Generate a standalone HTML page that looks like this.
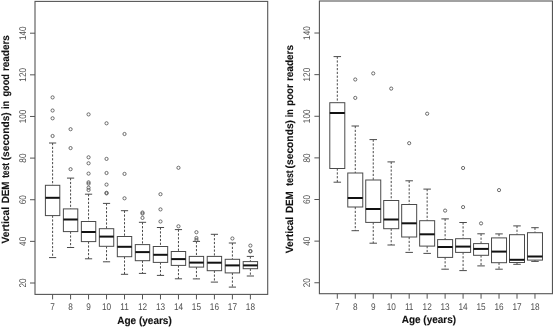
<!DOCTYPE html>
<html><head><meta charset="utf-8"><title>Vertical DEM test boxplots</title>
<style>
html,body{margin:0;padding:0;background:#fff;}
svg{display:block;text-rendering:geometricPrecision}
.t{font-family:"Liberation Sans",Arial,sans-serif;font-size:9.7px;fill:#505050;}
.b{font-family:"Liberation Sans",Arial,sans-serif;font-size:10.5px;font-weight:bold;fill:#111;stroke:#111;stroke-width:0.12px;}
</style></head><body>
<svg width="553" height="327" viewBox="0 0 553 327">
<rect width="553" height="327" fill="#fff"/>
<rect x="35.0" y="1.4" width="232.70" height="293.00" fill="none" stroke="#555" stroke-width="1.1"/>
<line x1="30.00" y1="283.0" x2="35.0" y2="283.0" stroke="#555" stroke-width="1"/>
<text transform="translate(25.80,283.0) rotate(-90) scale(0.85,1)" text-anchor="middle" class="t">20</text>
<line x1="30.00" y1="241.37" x2="35.0" y2="241.37" stroke="#555" stroke-width="1"/>
<text transform="translate(25.80,241.37) rotate(-90) scale(0.85,1)" text-anchor="middle" class="t">40</text>
<line x1="30.00" y1="199.73" x2="35.0" y2="199.73" stroke="#555" stroke-width="1"/>
<text transform="translate(25.80,199.73) rotate(-90) scale(0.85,1)" text-anchor="middle" class="t">60</text>
<line x1="30.00" y1="158.1" x2="35.0" y2="158.1" stroke="#555" stroke-width="1"/>
<text transform="translate(25.80,158.1) rotate(-90) scale(0.85,1)" text-anchor="middle" class="t">80</text>
<line x1="30.00" y1="116.46" x2="35.0" y2="116.46" stroke="#555" stroke-width="1"/>
<text transform="translate(25.80,116.46) rotate(-90) scale(0.85,1)" text-anchor="middle" class="t">100</text>
<line x1="30.00" y1="74.83" x2="35.0" y2="74.83" stroke="#555" stroke-width="1"/>
<text transform="translate(25.80,74.83) rotate(-90) scale(0.85,1)" text-anchor="middle" class="t">120</text>
<line x1="30.00" y1="33.2" x2="35.0" y2="33.2" stroke="#555" stroke-width="1"/>
<text transform="translate(25.80,33.2) rotate(-90) scale(0.85,1)" text-anchor="middle" class="t">140</text>
<line x1="52.60" y1="294.4" x2="52.60" y2="299.40" stroke="#555" stroke-width="1"/>
<text transform="translate(52.60,310.0) scale(0.85,1)" text-anchor="middle" class="t">7</text>
<line x1="70.58" y1="294.4" x2="70.58" y2="299.40" stroke="#555" stroke-width="1"/>
<text transform="translate(70.58,310.0) scale(0.85,1)" text-anchor="middle" class="t">8</text>
<line x1="88.56" y1="294.4" x2="88.56" y2="299.40" stroke="#555" stroke-width="1"/>
<text transform="translate(88.56,310.0) scale(0.85,1)" text-anchor="middle" class="t">9</text>
<line x1="106.54" y1="294.4" x2="106.54" y2="299.40" stroke="#555" stroke-width="1"/>
<text transform="translate(106.54,310.0) scale(0.85,1)" text-anchor="middle" class="t">10</text>
<line x1="124.52" y1="294.4" x2="124.52" y2="299.40" stroke="#555" stroke-width="1"/>
<text transform="translate(124.52,310.0) scale(0.85,1)" text-anchor="middle" class="t">11</text>
<line x1="142.50" y1="294.4" x2="142.50" y2="299.40" stroke="#555" stroke-width="1"/>
<text transform="translate(142.50,310.0) scale(0.85,1)" text-anchor="middle" class="t">12</text>
<line x1="160.48" y1="294.4" x2="160.48" y2="299.40" stroke="#555" stroke-width="1"/>
<text transform="translate(160.48,310.0) scale(0.85,1)" text-anchor="middle" class="t">13</text>
<line x1="178.46" y1="294.4" x2="178.46" y2="299.40" stroke="#555" stroke-width="1"/>
<text transform="translate(178.46,310.0) scale(0.85,1)" text-anchor="middle" class="t">14</text>
<line x1="196.44" y1="294.4" x2="196.44" y2="299.40" stroke="#555" stroke-width="1"/>
<text transform="translate(196.44,310.0) scale(0.85,1)" text-anchor="middle" class="t">15</text>
<line x1="214.42" y1="294.4" x2="214.42" y2="299.40" stroke="#555" stroke-width="1"/>
<text transform="translate(214.42,310.0) scale(0.85,1)" text-anchor="middle" class="t">16</text>
<line x1="232.40" y1="294.4" x2="232.40" y2="299.40" stroke="#555" stroke-width="1"/>
<text transform="translate(232.40,310.0) scale(0.85,1)" text-anchor="middle" class="t">17</text>
<line x1="250.38" y1="294.4" x2="250.38" y2="299.40" stroke="#555" stroke-width="1"/>
<text transform="translate(250.38,310.0) scale(0.85,1)" text-anchor="middle" class="t">18</text>
<line x1="52.60" y1="143.0" x2="52.60" y2="185.3" stroke="#4a4a4a" stroke-width="1" stroke-dasharray="2.2,1.6"/>
<line x1="52.60" y1="215.6" x2="52.60" y2="257.6" stroke="#4a4a4a" stroke-width="1" stroke-dasharray="2.2,1.6"/>
<line x1="49.00" y1="143.0" x2="56.20" y2="143.0" stroke="#4a4a4a" stroke-width="1"/>
<line x1="49.00" y1="257.6" x2="56.20" y2="257.6" stroke="#4a4a4a" stroke-width="1"/>
<rect x="45.40" y="185.3" width="14.40" height="30.30" fill="#fff" stroke="#4a4a4a" stroke-width="1"/>
<line x1="45.40" y1="197.8" x2="59.80" y2="197.8" stroke="#111" stroke-width="2.0"/>
<circle cx="52.60" cy="97.4" r="1.6" fill="none" stroke="#555" stroke-width="0.85"/>
<circle cx="52.60" cy="110.5" r="1.6" fill="none" stroke="#555" stroke-width="0.85"/>
<circle cx="52.60" cy="118.3" r="1.6" fill="none" stroke="#555" stroke-width="0.85"/>
<circle cx="52.60" cy="136.0" r="1.6" fill="none" stroke="#555" stroke-width="0.85"/>
<line x1="70.58" y1="178.1" x2="70.58" y2="208.9" stroke="#4a4a4a" stroke-width="1" stroke-dasharray="2.2,1.6"/>
<line x1="70.58" y1="231.6" x2="70.58" y2="247.5" stroke="#4a4a4a" stroke-width="1" stroke-dasharray="2.2,1.6"/>
<line x1="66.98" y1="178.1" x2="74.18" y2="178.1" stroke="#4a4a4a" stroke-width="1"/>
<line x1="66.98" y1="247.5" x2="74.18" y2="247.5" stroke="#4a4a4a" stroke-width="1"/>
<rect x="63.38" y="208.9" width="14.40" height="22.70" fill="#fff" stroke="#4a4a4a" stroke-width="1"/>
<line x1="63.38" y1="219.5" x2="77.78" y2="219.5" stroke="#111" stroke-width="2.0"/>
<circle cx="70.58" cy="129.2" r="1.6" fill="none" stroke="#555" stroke-width="0.85"/>
<circle cx="70.58" cy="148.1" r="1.6" fill="none" stroke="#555" stroke-width="0.85"/>
<circle cx="70.58" cy="169.2" r="1.6" fill="none" stroke="#555" stroke-width="0.85"/>
<line x1="88.56" y1="194.2" x2="88.56" y2="221.5" stroke="#4a4a4a" stroke-width="1" stroke-dasharray="2.2,1.6"/>
<line x1="88.56" y1="241.6" x2="88.56" y2="258.8" stroke="#4a4a4a" stroke-width="1" stroke-dasharray="2.2,1.6"/>
<line x1="84.96" y1="194.2" x2="92.16" y2="194.2" stroke="#4a4a4a" stroke-width="1"/>
<line x1="84.96" y1="258.8" x2="92.16" y2="258.8" stroke="#4a4a4a" stroke-width="1"/>
<rect x="81.36" y="221.5" width="14.40" height="20.10" fill="#fff" stroke="#4a4a4a" stroke-width="1"/>
<line x1="81.36" y1="232.0" x2="95.76" y2="232.0" stroke="#111" stroke-width="2.0"/>
<circle cx="88.56" cy="114.4" r="1.6" fill="none" stroke="#555" stroke-width="0.85"/>
<circle cx="88.56" cy="157.3" r="1.6" fill="none" stroke="#555" stroke-width="0.85"/>
<circle cx="88.56" cy="163.3" r="1.6" fill="none" stroke="#555" stroke-width="0.85"/>
<circle cx="88.56" cy="173.6" r="1.6" fill="none" stroke="#555" stroke-width="0.85"/>
<circle cx="88.56" cy="182.3" r="1.6" fill="none" stroke="#555" stroke-width="0.85"/>
<circle cx="88.56" cy="183.7" r="1.6" fill="none" stroke="#555" stroke-width="0.85"/>
<circle cx="88.56" cy="187.7" r="1.6" fill="none" stroke="#555" stroke-width="0.85"/>
<circle cx="88.56" cy="190.0" r="1.6" fill="none" stroke="#555" stroke-width="0.85"/>
<line x1="106.54" y1="203.4" x2="106.54" y2="228.7" stroke="#4a4a4a" stroke-width="1" stroke-dasharray="2.2,1.6"/>
<line x1="106.54" y1="246.3" x2="106.54" y2="261.8" stroke="#4a4a4a" stroke-width="1" stroke-dasharray="2.2,1.6"/>
<line x1="102.94" y1="203.4" x2="110.14" y2="203.4" stroke="#4a4a4a" stroke-width="1"/>
<line x1="102.94" y1="261.8" x2="110.14" y2="261.8" stroke="#4a4a4a" stroke-width="1"/>
<rect x="99.34" y="228.7" width="14.40" height="17.60" fill="#fff" stroke="#4a4a4a" stroke-width="1"/>
<line x1="99.34" y1="236.6" x2="113.74" y2="236.6" stroke="#111" stroke-width="2.0"/>
<circle cx="106.54" cy="123.3" r="1.6" fill="none" stroke="#555" stroke-width="0.85"/>
<circle cx="106.54" cy="158.9" r="1.6" fill="none" stroke="#555" stroke-width="0.85"/>
<circle cx="106.54" cy="173.0" r="1.6" fill="none" stroke="#555" stroke-width="0.85"/>
<circle cx="106.54" cy="184.6" r="1.6" fill="none" stroke="#555" stroke-width="0.85"/>
<circle cx="106.54" cy="192.8" r="1.6" fill="none" stroke="#555" stroke-width="0.85"/>
<circle cx="106.54" cy="193.4" r="1.6" fill="none" stroke="#555" stroke-width="0.85"/>
<line x1="124.52" y1="210.7" x2="124.52" y2="236.5" stroke="#4a4a4a" stroke-width="1" stroke-dasharray="2.2,1.6"/>
<line x1="124.52" y1="256.7" x2="124.52" y2="274.3" stroke="#4a4a4a" stroke-width="1" stroke-dasharray="2.2,1.6"/>
<line x1="120.92" y1="210.7" x2="128.12" y2="210.7" stroke="#4a4a4a" stroke-width="1"/>
<line x1="120.92" y1="274.3" x2="128.12" y2="274.3" stroke="#4a4a4a" stroke-width="1"/>
<rect x="117.32" y="236.5" width="14.40" height="20.20" fill="#fff" stroke="#4a4a4a" stroke-width="1"/>
<line x1="117.32" y1="246.8" x2="131.72" y2="246.8" stroke="#111" stroke-width="2.0"/>
<circle cx="124.52" cy="134.0" r="1.6" fill="none" stroke="#555" stroke-width="0.85"/>
<circle cx="124.52" cy="173.9" r="1.6" fill="none" stroke="#555" stroke-width="0.85"/>
<circle cx="124.52" cy="198.3" r="1.6" fill="none" stroke="#555" stroke-width="0.85"/>
<line x1="142.50" y1="222.3" x2="142.50" y2="244.6" stroke="#4a4a4a" stroke-width="1" stroke-dasharray="2.2,1.6"/>
<line x1="142.50" y1="260.7" x2="142.50" y2="273.4" stroke="#4a4a4a" stroke-width="1" stroke-dasharray="2.2,1.6"/>
<line x1="138.90" y1="222.3" x2="146.10" y2="222.3" stroke="#4a4a4a" stroke-width="1"/>
<line x1="138.90" y1="273.4" x2="146.10" y2="273.4" stroke="#4a4a4a" stroke-width="1"/>
<rect x="135.30" y="244.6" width="14.40" height="16.10" fill="#fff" stroke="#4a4a4a" stroke-width="1"/>
<line x1="135.30" y1="252.1" x2="149.70" y2="252.1" stroke="#111" stroke-width="2.0"/>
<circle cx="142.50" cy="212.5" r="1.6" fill="none" stroke="#555" stroke-width="0.85"/>
<circle cx="142.50" cy="213.6" r="1.6" fill="none" stroke="#555" stroke-width="0.85"/>
<circle cx="142.50" cy="217.9" r="1.6" fill="none" stroke="#555" stroke-width="0.85"/>
<line x1="160.48" y1="227.5" x2="160.48" y2="246.5" stroke="#4a4a4a" stroke-width="1" stroke-dasharray="2.2,1.6"/>
<line x1="160.48" y1="262.4" x2="160.48" y2="275.4" stroke="#4a4a4a" stroke-width="1" stroke-dasharray="2.2,1.6"/>
<line x1="156.88" y1="227.5" x2="164.08" y2="227.5" stroke="#4a4a4a" stroke-width="1"/>
<line x1="156.88" y1="275.4" x2="164.08" y2="275.4" stroke="#4a4a4a" stroke-width="1"/>
<rect x="153.28" y="246.5" width="14.40" height="15.90" fill="#fff" stroke="#4a4a4a" stroke-width="1"/>
<line x1="153.28" y1="254.8" x2="167.68" y2="254.8" stroke="#111" stroke-width="2.0"/>
<circle cx="160.48" cy="194.2" r="1.6" fill="none" stroke="#555" stroke-width="0.85"/>
<circle cx="160.48" cy="209.4" r="1.6" fill="none" stroke="#555" stroke-width="0.85"/>
<circle cx="160.48" cy="221.5" r="1.6" fill="none" stroke="#555" stroke-width="0.85"/>
<line x1="178.46" y1="229.6" x2="178.46" y2="251.5" stroke="#4a4a4a" stroke-width="1" stroke-dasharray="2.2,1.6"/>
<line x1="178.46" y1="265.4" x2="178.46" y2="278.8" stroke="#4a4a4a" stroke-width="1" stroke-dasharray="2.2,1.6"/>
<line x1="174.86" y1="229.6" x2="182.06" y2="229.6" stroke="#4a4a4a" stroke-width="1"/>
<line x1="174.86" y1="278.8" x2="182.06" y2="278.8" stroke="#4a4a4a" stroke-width="1"/>
<rect x="171.26" y="251.5" width="14.40" height="13.90" fill="#fff" stroke="#4a4a4a" stroke-width="1"/>
<line x1="171.26" y1="259.1" x2="185.66" y2="259.1" stroke="#111" stroke-width="2.0"/>
<circle cx="178.46" cy="167.8" r="1.6" fill="none" stroke="#555" stroke-width="0.85"/>
<circle cx="178.46" cy="226.3" r="1.6" fill="none" stroke="#555" stroke-width="0.85"/>
<line x1="196.44" y1="241.4" x2="196.44" y2="256.4" stroke="#4a4a4a" stroke-width="1" stroke-dasharray="2.2,1.6"/>
<line x1="196.44" y1="267.1" x2="196.44" y2="278.9" stroke="#4a4a4a" stroke-width="1" stroke-dasharray="2.2,1.6"/>
<line x1="192.84" y1="241.4" x2="200.04" y2="241.4" stroke="#4a4a4a" stroke-width="1"/>
<line x1="192.84" y1="278.9" x2="200.04" y2="278.9" stroke="#4a4a4a" stroke-width="1"/>
<rect x="189.24" y="256.4" width="14.40" height="10.70" fill="#fff" stroke="#4a4a4a" stroke-width="1"/>
<line x1="189.24" y1="262.6" x2="203.64" y2="262.6" stroke="#111" stroke-width="2.0"/>
<circle cx="196.44" cy="232.2" r="1.6" fill="none" stroke="#555" stroke-width="0.85"/>
<circle cx="196.44" cy="238.0" r="1.6" fill="none" stroke="#555" stroke-width="0.85"/>
<circle cx="196.44" cy="240.0" r="1.6" fill="none" stroke="#555" stroke-width="0.85"/>
<line x1="214.42" y1="234.3" x2="214.42" y2="256.4" stroke="#4a4a4a" stroke-width="1" stroke-dasharray="2.2,1.6"/>
<line x1="214.42" y1="270.7" x2="214.42" y2="282.1" stroke="#4a4a4a" stroke-width="1" stroke-dasharray="2.2,1.6"/>
<line x1="210.82" y1="234.3" x2="218.02" y2="234.3" stroke="#4a4a4a" stroke-width="1"/>
<line x1="210.82" y1="282.1" x2="218.02" y2="282.1" stroke="#4a4a4a" stroke-width="1"/>
<rect x="207.22" y="256.4" width="14.40" height="14.30" fill="#fff" stroke="#4a4a4a" stroke-width="1"/>
<line x1="207.22" y1="262.7" x2="221.62" y2="262.7" stroke="#111" stroke-width="2.0"/>
<line x1="232.40" y1="243.0" x2="232.40" y2="259.3" stroke="#4a4a4a" stroke-width="1" stroke-dasharray="2.2,1.6"/>
<line x1="232.40" y1="272.9" x2="232.40" y2="287.1" stroke="#4a4a4a" stroke-width="1" stroke-dasharray="2.2,1.6"/>
<line x1="228.80" y1="243.0" x2="236.00" y2="243.0" stroke="#4a4a4a" stroke-width="1"/>
<line x1="228.80" y1="287.1" x2="236.00" y2="287.1" stroke="#4a4a4a" stroke-width="1"/>
<rect x="225.20" y="259.3" width="14.40" height="13.60" fill="#fff" stroke="#4a4a4a" stroke-width="1"/>
<line x1="225.20" y1="265.4" x2="239.60" y2="265.4" stroke="#111" stroke-width="2.0"/>
<circle cx="232.40" cy="238.5" r="1.6" fill="none" stroke="#555" stroke-width="0.85"/>
<line x1="250.38" y1="256.4" x2="250.38" y2="261.6" stroke="#4a4a4a" stroke-width="1" stroke-dasharray="2.2,1.6"/>
<line x1="250.38" y1="268.7" x2="250.38" y2="276.0" stroke="#4a4a4a" stroke-width="1" stroke-dasharray="2.2,1.6"/>
<line x1="246.78" y1="256.4" x2="253.98" y2="256.4" stroke="#4a4a4a" stroke-width="1"/>
<line x1="246.78" y1="276.0" x2="253.98" y2="276.0" stroke="#4a4a4a" stroke-width="1"/>
<rect x="243.18" y="261.6" width="14.40" height="7.10" fill="#fff" stroke="#4a4a4a" stroke-width="1"/>
<line x1="243.18" y1="265.4" x2="257.58" y2="265.4" stroke="#111" stroke-width="2.0"/>
<circle cx="250.38" cy="245.6" r="1.6" fill="none" stroke="#555" stroke-width="0.85"/>
<circle cx="250.38" cy="251.0" r="1.6" fill="none" stroke="#555" stroke-width="0.85"/>
<circle cx="250.38" cy="251.4" r="1.6" fill="none" stroke="#555" stroke-width="0.85"/>
<rect x="319.4" y="1.0" width="233.05" height="292.70" fill="none" stroke="#555" stroke-width="1.1"/>
<line x1="314.40" y1="282.75" x2="319.4" y2="282.75" stroke="#555" stroke-width="1"/>
<text transform="translate(310.20,282.75) rotate(-90) scale(0.85,1)" text-anchor="middle" class="t">20</text>
<line x1="314.40" y1="241.13" x2="319.4" y2="241.13" stroke="#555" stroke-width="1"/>
<text transform="translate(310.20,241.13) rotate(-90) scale(0.85,1)" text-anchor="middle" class="t">40</text>
<line x1="314.40" y1="199.51" x2="319.4" y2="199.51" stroke="#555" stroke-width="1"/>
<text transform="translate(310.20,199.51) rotate(-90) scale(0.85,1)" text-anchor="middle" class="t">60</text>
<line x1="314.40" y1="157.89" x2="319.4" y2="157.89" stroke="#555" stroke-width="1"/>
<text transform="translate(310.20,157.89) rotate(-90) scale(0.85,1)" text-anchor="middle" class="t">80</text>
<line x1="314.40" y1="116.27" x2="319.4" y2="116.27" stroke="#555" stroke-width="1"/>
<text transform="translate(310.20,116.27) rotate(-90) scale(0.85,1)" text-anchor="middle" class="t">100</text>
<line x1="314.40" y1="74.65" x2="319.4" y2="74.65" stroke="#555" stroke-width="1"/>
<text transform="translate(310.20,74.65) rotate(-90) scale(0.85,1)" text-anchor="middle" class="t">120</text>
<line x1="314.40" y1="33.03" x2="319.4" y2="33.03" stroke="#555" stroke-width="1"/>
<text transform="translate(310.20,33.03) rotate(-90) scale(0.85,1)" text-anchor="middle" class="t">140</text>
<line x1="337.30" y1="293.7" x2="337.30" y2="298.70" stroke="#555" stroke-width="1"/>
<text transform="translate(337.30,310.0) scale(0.85,1)" text-anchor="middle" class="t">7</text>
<line x1="355.27" y1="293.7" x2="355.27" y2="298.70" stroke="#555" stroke-width="1"/>
<text transform="translate(355.27,310.0) scale(0.85,1)" text-anchor="middle" class="t">8</text>
<line x1="373.24" y1="293.7" x2="373.24" y2="298.70" stroke="#555" stroke-width="1"/>
<text transform="translate(373.24,310.0) scale(0.85,1)" text-anchor="middle" class="t">9</text>
<line x1="391.21" y1="293.7" x2="391.21" y2="298.70" stroke="#555" stroke-width="1"/>
<text transform="translate(391.21,310.0) scale(0.85,1)" text-anchor="middle" class="t">10</text>
<line x1="409.18" y1="293.7" x2="409.18" y2="298.70" stroke="#555" stroke-width="1"/>
<text transform="translate(409.18,310.0) scale(0.85,1)" text-anchor="middle" class="t">11</text>
<line x1="427.15" y1="293.7" x2="427.15" y2="298.70" stroke="#555" stroke-width="1"/>
<text transform="translate(427.15,310.0) scale(0.85,1)" text-anchor="middle" class="t">12</text>
<line x1="445.12" y1="293.7" x2="445.12" y2="298.70" stroke="#555" stroke-width="1"/>
<text transform="translate(445.12,310.0) scale(0.85,1)" text-anchor="middle" class="t">13</text>
<line x1="463.09" y1="293.7" x2="463.09" y2="298.70" stroke="#555" stroke-width="1"/>
<text transform="translate(463.09,310.0) scale(0.85,1)" text-anchor="middle" class="t">14</text>
<line x1="481.06" y1="293.7" x2="481.06" y2="298.70" stroke="#555" stroke-width="1"/>
<text transform="translate(481.06,310.0) scale(0.85,1)" text-anchor="middle" class="t">15</text>
<line x1="499.03" y1="293.7" x2="499.03" y2="298.70" stroke="#555" stroke-width="1"/>
<text transform="translate(499.03,310.0) scale(0.85,1)" text-anchor="middle" class="t">16</text>
<line x1="517.00" y1="293.7" x2="517.00" y2="298.70" stroke="#555" stroke-width="1"/>
<text transform="translate(517.00,310.0) scale(0.85,1)" text-anchor="middle" class="t">17</text>
<line x1="534.97" y1="293.7" x2="534.97" y2="298.70" stroke="#555" stroke-width="1"/>
<text transform="translate(534.97,310.0) scale(0.85,1)" text-anchor="middle" class="t">18</text>
<line x1="337.30" y1="56.6" x2="337.30" y2="102.7" stroke="#4a4a4a" stroke-width="1" stroke-dasharray="2.2,1.6"/>
<line x1="337.30" y1="168.5" x2="337.30" y2="182.2" stroke="#4a4a4a" stroke-width="1" stroke-dasharray="2.2,1.6"/>
<line x1="333.55" y1="56.6" x2="341.05" y2="56.6" stroke="#4a4a4a" stroke-width="1"/>
<line x1="333.55" y1="182.2" x2="341.05" y2="182.2" stroke="#4a4a4a" stroke-width="1"/>
<rect x="329.80" y="102.7" width="15.00" height="65.80" fill="#fff" stroke="#4a4a4a" stroke-width="1"/>
<line x1="329.80" y1="113.0" x2="344.80" y2="113.0" stroke="#111" stroke-width="2.0"/>
<line x1="355.27" y1="126.0" x2="355.27" y2="173.0" stroke="#4a4a4a" stroke-width="1" stroke-dasharray="2.2,1.6"/>
<line x1="355.27" y1="207.0" x2="355.27" y2="230.7" stroke="#4a4a4a" stroke-width="1" stroke-dasharray="2.2,1.6"/>
<line x1="351.52" y1="126.0" x2="359.02" y2="126.0" stroke="#4a4a4a" stroke-width="1"/>
<line x1="351.52" y1="230.7" x2="359.02" y2="230.7" stroke="#4a4a4a" stroke-width="1"/>
<rect x="347.77" y="173.0" width="15.00" height="34.00" fill="#fff" stroke="#4a4a4a" stroke-width="1"/>
<line x1="347.77" y1="198.0" x2="362.77" y2="198.0" stroke="#111" stroke-width="2.0"/>
<circle cx="355.27" cy="79.5" r="1.6" fill="none" stroke="#555" stroke-width="0.85"/>
<circle cx="355.27" cy="97.9" r="1.6" fill="none" stroke="#555" stroke-width="0.85"/>
<line x1="373.24" y1="139.6" x2="373.24" y2="180.0" stroke="#4a4a4a" stroke-width="1" stroke-dasharray="2.2,1.6"/>
<line x1="373.24" y1="222.4" x2="373.24" y2="243.2" stroke="#4a4a4a" stroke-width="1" stroke-dasharray="2.2,1.6"/>
<line x1="369.49" y1="139.6" x2="376.99" y2="139.6" stroke="#4a4a4a" stroke-width="1"/>
<line x1="369.49" y1="243.2" x2="376.99" y2="243.2" stroke="#4a4a4a" stroke-width="1"/>
<rect x="365.74" y="180.0" width="15.00" height="42.40" fill="#fff" stroke="#4a4a4a" stroke-width="1"/>
<line x1="365.74" y1="209.0" x2="380.74" y2="209.0" stroke="#111" stroke-width="2.0"/>
<circle cx="373.24" cy="73.4" r="1.6" fill="none" stroke="#555" stroke-width="0.85"/>
<line x1="391.21" y1="161.9" x2="391.21" y2="200.5" stroke="#4a4a4a" stroke-width="1" stroke-dasharray="2.2,1.6"/>
<line x1="391.21" y1="228.7" x2="391.21" y2="245.0" stroke="#4a4a4a" stroke-width="1" stroke-dasharray="2.2,1.6"/>
<line x1="387.46" y1="161.9" x2="394.96" y2="161.9" stroke="#4a4a4a" stroke-width="1"/>
<line x1="387.46" y1="245.0" x2="394.96" y2="245.0" stroke="#4a4a4a" stroke-width="1"/>
<rect x="383.71" y="200.5" width="15.00" height="28.20" fill="#fff" stroke="#4a4a4a" stroke-width="1"/>
<line x1="383.71" y1="219.5" x2="398.71" y2="219.5" stroke="#111" stroke-width="2.0"/>
<circle cx="391.21" cy="88.6" r="1.6" fill="none" stroke="#555" stroke-width="0.85"/>
<line x1="409.18" y1="180.8" x2="409.18" y2="204.5" stroke="#4a4a4a" stroke-width="1" stroke-dasharray="2.2,1.6"/>
<line x1="409.18" y1="237.0" x2="409.18" y2="252.4" stroke="#4a4a4a" stroke-width="1" stroke-dasharray="2.2,1.6"/>
<line x1="405.43" y1="180.8" x2="412.93" y2="180.8" stroke="#4a4a4a" stroke-width="1"/>
<line x1="405.43" y1="252.4" x2="412.93" y2="252.4" stroke="#4a4a4a" stroke-width="1"/>
<rect x="401.68" y="204.5" width="15.00" height="32.50" fill="#fff" stroke="#4a4a4a" stroke-width="1"/>
<line x1="401.68" y1="223.3" x2="416.68" y2="223.3" stroke="#111" stroke-width="2.0"/>
<circle cx="409.18" cy="143.2" r="1.6" fill="none" stroke="#555" stroke-width="0.85"/>
<line x1="427.15" y1="189.1" x2="427.15" y2="220.7" stroke="#4a4a4a" stroke-width="1" stroke-dasharray="2.2,1.6"/>
<line x1="427.15" y1="246.1" x2="427.15" y2="253.4" stroke="#4a4a4a" stroke-width="1" stroke-dasharray="2.2,1.6"/>
<line x1="423.40" y1="189.1" x2="430.90" y2="189.1" stroke="#4a4a4a" stroke-width="1"/>
<line x1="423.40" y1="253.4" x2="430.90" y2="253.4" stroke="#4a4a4a" stroke-width="1"/>
<rect x="419.65" y="220.7" width="15.00" height="25.40" fill="#fff" stroke="#4a4a4a" stroke-width="1"/>
<line x1="419.65" y1="234.3" x2="434.65" y2="234.3" stroke="#111" stroke-width="2.0"/>
<circle cx="427.15" cy="113.7" r="1.6" fill="none" stroke="#555" stroke-width="0.85"/>
<line x1="445.12" y1="218.9" x2="445.12" y2="239.6" stroke="#4a4a4a" stroke-width="1" stroke-dasharray="2.2,1.6"/>
<line x1="445.12" y1="257.4" x2="445.12" y2="269.2" stroke="#4a4a4a" stroke-width="1" stroke-dasharray="2.2,1.6"/>
<line x1="441.37" y1="218.9" x2="448.87" y2="218.9" stroke="#4a4a4a" stroke-width="1"/>
<line x1="441.37" y1="269.2" x2="448.87" y2="269.2" stroke="#4a4a4a" stroke-width="1"/>
<rect x="437.62" y="239.6" width="15.00" height="17.80" fill="#fff" stroke="#4a4a4a" stroke-width="1"/>
<line x1="437.62" y1="247.0" x2="452.62" y2="247.0" stroke="#111" stroke-width="2.0"/>
<circle cx="445.12" cy="210.6" r="1.6" fill="none" stroke="#555" stroke-width="0.85"/>
<line x1="463.09" y1="222.5" x2="463.09" y2="238.7" stroke="#4a4a4a" stroke-width="1" stroke-dasharray="2.2,1.6"/>
<line x1="463.09" y1="252.4" x2="463.09" y2="270.6" stroke="#4a4a4a" stroke-width="1" stroke-dasharray="2.2,1.6"/>
<line x1="459.34" y1="222.5" x2="466.84" y2="222.5" stroke="#4a4a4a" stroke-width="1"/>
<line x1="459.34" y1="270.6" x2="466.84" y2="270.6" stroke="#4a4a4a" stroke-width="1"/>
<rect x="455.59" y="238.7" width="15.00" height="13.70" fill="#fff" stroke="#4a4a4a" stroke-width="1"/>
<line x1="455.59" y1="246.6" x2="470.59" y2="246.6" stroke="#111" stroke-width="2.0"/>
<circle cx="463.09" cy="168.0" r="1.6" fill="none" stroke="#555" stroke-width="0.85"/>
<circle cx="463.09" cy="207.1" r="1.6" fill="none" stroke="#555" stroke-width="0.85"/>
<line x1="481.06" y1="233.8" x2="481.06" y2="243.6" stroke="#4a4a4a" stroke-width="1" stroke-dasharray="2.2,1.6"/>
<line x1="481.06" y1="255.3" x2="481.06" y2="265.9" stroke="#4a4a4a" stroke-width="1" stroke-dasharray="2.2,1.6"/>
<line x1="477.31" y1="233.8" x2="484.81" y2="233.8" stroke="#4a4a4a" stroke-width="1"/>
<line x1="477.31" y1="265.9" x2="484.81" y2="265.9" stroke="#4a4a4a" stroke-width="1"/>
<rect x="473.56" y="243.6" width="15.00" height="11.70" fill="#fff" stroke="#4a4a4a" stroke-width="1"/>
<line x1="473.56" y1="248.9" x2="488.56" y2="248.9" stroke="#111" stroke-width="2.0"/>
<circle cx="481.06" cy="223.4" r="1.6" fill="none" stroke="#555" stroke-width="0.85"/>
<line x1="499.03" y1="233.9" x2="499.03" y2="237.9" stroke="#4a4a4a" stroke-width="1" stroke-dasharray="2.2,1.6"/>
<line x1="499.03" y1="262.7" x2="499.03" y2="269.2" stroke="#4a4a4a" stroke-width="1" stroke-dasharray="2.2,1.6"/>
<line x1="495.28" y1="233.9" x2="502.78" y2="233.9" stroke="#4a4a4a" stroke-width="1"/>
<line x1="495.28" y1="269.2" x2="502.78" y2="269.2" stroke="#4a4a4a" stroke-width="1"/>
<rect x="491.53" y="237.9" width="15.00" height="24.80" fill="#fff" stroke="#4a4a4a" stroke-width="1"/>
<line x1="491.53" y1="251.6" x2="506.53" y2="251.6" stroke="#111" stroke-width="2.0"/>
<circle cx="499.03" cy="190.1" r="1.6" fill="none" stroke="#555" stroke-width="0.85"/>
<line x1="517.00" y1="225.9" x2="517.00" y2="234.7" stroke="#4a4a4a" stroke-width="1" stroke-dasharray="2.2,1.6"/>
<line x1="517.00" y1="262.5" x2="517.00" y2="264.3" stroke="#4a4a4a" stroke-width="1" stroke-dasharray="2.2,1.6"/>
<line x1="513.25" y1="225.9" x2="520.75" y2="225.9" stroke="#4a4a4a" stroke-width="1"/>
<line x1="513.25" y1="264.3" x2="520.75" y2="264.3" stroke="#4a4a4a" stroke-width="1"/>
<rect x="509.50" y="234.7" width="15.00" height="27.80" fill="#fff" stroke="#4a4a4a" stroke-width="1"/>
<line x1="509.50" y1="259.8" x2="524.50" y2="259.8" stroke="#111" stroke-width="2.0"/>
<line x1="534.97" y1="227.7" x2="534.97" y2="232.7" stroke="#4a4a4a" stroke-width="1" stroke-dasharray="2.2,1.6"/>
<line x1="534.97" y1="260.1" x2="534.97" y2="261.4" stroke="#4a4a4a" stroke-width="1" stroke-dasharray="2.2,1.6"/>
<line x1="531.22" y1="227.7" x2="538.72" y2="227.7" stroke="#4a4a4a" stroke-width="1"/>
<line x1="531.22" y1="261.4" x2="538.72" y2="261.4" stroke="#4a4a4a" stroke-width="1"/>
<rect x="527.47" y="232.7" width="15.00" height="27.40" fill="#fff" stroke="#4a4a4a" stroke-width="1"/>
<line x1="527.47" y1="256.5" x2="542.47" y2="256.5" stroke="#111" stroke-width="2.0"/>
<text x="144.5" y="323.5" text-anchor="middle" class="b" textLength="54.6" lengthAdjust="spacingAndGlyphs">Age (years)</text>
<text x="428.9" y="323" text-anchor="middle" class="b" textLength="54.2" lengthAdjust="spacingAndGlyphs">Age (years)</text>
<text transform="translate(8.9,243.4) rotate(-90)" class="b"><tspan x="0" y="0" textLength="36.4" lengthAdjust="spacingAndGlyphs">Vertical</tspan> <tspan x="40.1" y="0" textLength="21.8" lengthAdjust="spacingAndGlyphs">DEM</tspan> <tspan x="65.7" y="0" textLength="14.7" lengthAdjust="spacingAndGlyphs">test</tspan> <tspan x="83.1" y="0" textLength="48.0" lengthAdjust="spacingAndGlyphs">(seconds)</tspan> <tspan x="134.7" y="0" textLength="7.8" lengthAdjust="spacingAndGlyphs">in</tspan> <tspan x="146.9" y="0" textLength="22.3" lengthAdjust="spacingAndGlyphs">good</tspan> <tspan x="172.3" y="0" textLength="36.0" lengthAdjust="spacingAndGlyphs">readers</tspan></text>
<text transform="translate(293.0,253.2) rotate(-90)" class="b"><tspan x="0" y="0" textLength="36.4" lengthAdjust="spacingAndGlyphs">Vertical</tspan> <tspan x="40.1" y="0" textLength="21.8" lengthAdjust="spacingAndGlyphs">DEM</tspan> <tspan x="67.5" y="0" textLength="15.2" lengthAdjust="spacingAndGlyphs">test</tspan> <tspan x="84.8" y="0" textLength="48.4" lengthAdjust="spacingAndGlyphs">(seconds)</tspan> <tspan x="135.9" y="0" textLength="8.0" lengthAdjust="spacingAndGlyphs">in</tspan> <tspan x="147.5" y="0" textLength="21.4" lengthAdjust="spacingAndGlyphs">poor</tspan> <tspan x="172.1" y="0" textLength="36.2" lengthAdjust="spacingAndGlyphs">readers</tspan></text>
</svg>
</body></html>
